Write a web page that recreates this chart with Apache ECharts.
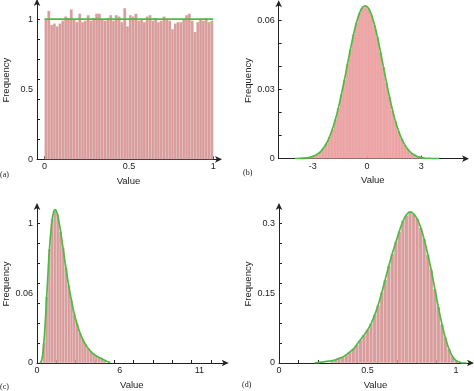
<!DOCTYPE html>
<html><head><meta charset="utf-8">
<script src="https://cdn.jsdelivr.net/npm/echarts@6/dist/echarts.min.js"></script>
<style>html,body{margin:0;padding:0;background:#fff}#c{width:474px;height:391px}</style>
</head><body><div id="c"></div>
<script>
// ---------- DATA ----------
// (a) uniform histogram, 60 bins on [0,1]
const aBinCenters = [];
const aValues = [1.00,1.06,0.96,0.97,0.95,0.97,0.99,1.02,1.01,1.07,1.00,0.98,1.04,0.98,0.99,1.03,0.99,1.01,1.04,1.04,
  1.00,0.99,1.01,1.03,0.99,1.03,1.02,0.98,1.08,0.95,1.03,1.02,1.04,0.99,1.00,0.98,1.02,1.03,0.99,1.01,
  0.98,0.99,1.02,1.00,0.99,0.93,0.97,0.98,0.98,1.00,1.03,1.04,0.99,0.91,0.98,1.00,0.99,1.01,0.98,0.99];
const aCurveX = [0, 1];
const aCurveY = [1, 1];

// (b) normal histogram
const bBinCenters = [-3.417,-3.25,-3.083,-2.917,-2.75,-2.583,-2.417,-2.25,-2.083,-1.917,-1.75,-1.583,-1.417,-1.25,-1.083,-0.917,-0.75,-0.583,-0.417,-0.25,-0.083,
  0.083,0.25,0.417,0.583,0.75,0.917,1.083,1.25,1.417,1.583,1.75,1.917,2.083,2.25,2.417,2.583,2.75,2.917,3.083,3.25];
const bValues = [0.0003,0.0005,0.0008,0.0013,0.0021,0.0030,0.0046,0.0066,0.0094,0.0127,0.0171,0.0220,0.0280,0.0342,0.0411,0.0475,0.0540,0.0590,0.0633,0.0657,0.0666,
  0.0653,0.0626,0.0580,0.0528,0.0462,0.0398,0.0329,0.0268,0.0209,0.0162,0.0119,0.0088,0.0060,0.0043,0.0027,0.0018,0.0011,0.0007,0.0004,0.0002];
const bCurveX = [-4,-3.75,-3.5,-3.25,-3.083,-2.917,-2.75,-2.583,-2.417,-2.25,-2.083,-1.917,-1.75,-1.583,-1.417,-1.25,-1.083,-0.917,-0.75,-0.583,-0.417,-0.25,-0.083,
  0.083,0.25,0.417,0.583,0.75,0.917,1.083,1.25,1.417,1.583,1.75,1.917,2.083,2.25,2.417,2.583,2.75,2.917,3.083,3.25,3.5,3.75,4];
const bCurveY = [0,0.0001,0.0003,0.0005,0.0008,0.0013,0.0020,0.0030,0.0045,0.0066,0.0093,0.0128,0.0170,0.0221,0.0279,0.0343,0.0410,0.0476,0.0538,0.0592,0.0632,0.0658,0.0665,
  0.0654,0.0625,0.0581,0.0527,0.0463,0.0397,0.0330,0.0267,0.0210,0.0161,0.0120,0.0087,0.0061,0.0042,0.0028,0.0018,0.0011,0.0007,0.0004,0.0002,0.0001,0,0];

// (c) right-skewed histogram
const cBinCenters = [0.5,0.7,0.9,1.1,1.3,1.5,1.7,1.9,2.1,2.3,2.5,2.7,2.9,3.1,3.3,3.5,3.7,3.9,4.1,4.3,4.5,4.7,4.9];
const cValues = [0.017,0.057,0.098,0.124,0.131,0.128,0.113,0.099,0.082,0.067,0.054,0.042,0.034,0.026,0.021,0.016,0.013,0.010,0.008,0.006,0.005,0.004,0.003];
const cCurveX = [0.2,0.3,0.4,0.5,0.6,0.7,0.8,0.9,1.0,1.1,1.2,1.3,1.4,1.5,1.6,1.7,1.8,1.9,2.0,2.2,2.4,2.6,2.8,3.0,3.2,3.4,3.6,3.8,4.0,4.2,4.4,4.6,4.8,5.0,5.3];
const cCurveY = [0,0.0012,0.0062,0.0177,0.0352,0.0563,0.0780,0.0974,0.1128,0.1235,0.1298,0.1320,0.1307,0.1268,0.1210,0.1139,0.1060,0.0977,0.0895,0.0737,0.0596,0.0475,0.0377,0.0297,0.0233,0.0183,0.0143,0.0112,0.0088,0.0069,0.0054,0.0043,0.0030,0.0018,0.0005];

// (d) left-skewed histogram
const dBinCenters = [0.30,0.32,0.34,0.36,0.38,0.40,0.42,0.44,0.46,0.48,0.50,0.52,0.54,0.56,0.58,0.60,0.62,0.64,0.66,0.68,0.70,0.72,0.74,0.76,0.78,0.80,0.82,0.84,0.86,0.88,0.90,0.92,0.94,0.96,0.98,1.00];
const dValues = [0.005,0.007,0.010,0.013,0.018,0.024,0.031,0.039,0.050,0.060,0.072,0.085,0.104,0.124,0.152,0.179,0.209,0.235,0.261,0.283,0.306,0.318,0.326,0.320,0.311,0.291,0.267,0.233,0.201,0.159,0.121,0.083,0.055,0.030,0.014,0.005];
const dCurveX = [0.20,0.22,0.24,0.26,0.28,0.30,0.32,0.34,0.36,0.38,0.40,0.42,0.44,0.46,0.48,0.50,0.52,0.54,0.56,0.58,0.60,0.62,0.64,0.66,0.68,0.70,0.72,0.74,0.76,0.78,0.80,0.82,0.84,0.86,0.88,0.90,0.92,0.94,0.96,0.98,1.00,1.02,1.04,1.06];
const dCurveY = [0,0.001,0.002,0.003,0.004,0.005,0.007,0.010,0.013,0.018,0.024,0.030,0.040,0.050,0.060,0.071,0.085,0.103,0.125,0.151,0.180,0.208,0.236,0.260,0.284,0.305,0.319,0.325,0.321,0.310,0.292,0.266,0.234,0.200,0.160,0.120,0.084,0.054,0.030,0.014,0.005,0.002,0,0];

// ticks and labels
const aXLabels = [0, 0.5, 1];
const aYLabels = [0, 0.5, 1];
const aYTicks = [0, 1/7, 2/7, 3/7, 4/7, 5/7, 6/7, 1];
const bXLabels = [-3, 0, 3];
const bYLabels = [0, 0.03, 0.06];
const bYTicks = [0, 0.01, 0.02, 0.03, 0.04, 0.05, 0.06];
const cXLabelPos = [0, 6, 11.76];
const cXLabelText = ['0', '6', '11'];
const cXTicks = [0, 1.4, 2.8, 4.2, 5.6, 7.0, 8.4, 9.8, 11.2, 12.6];
const cYLabelPos = [0, 0.06, 0.12];
const cYLabelText = ['0', '0.06', '1'];
const cYTicks = [0, 0.12/7, 0.24/7, 0.36/7, 0.48/7, 0.6/7, 0.72/7, 0.12];
const dXLabels = [0, 0.5, 1];
const dXTicks = [0, 1/9, 2/9, 3/9, 4/9, 5/9, 6/9, 7/9, 8/9, 1];
const dYLabels = [0, 0.15, 0.3];
const dYTicks = [0, 0.3/7, 0.6/7, 0.9/7, 1.2/7, 1.5/7, 1.8/7, 0.3];
for (let i = 0; i < aValues.length; i++) aBinCenters.push((i + 0.5) / aValues.length);

// ---------- CHART ----------
const FONT = 'Liberation Sans';
const TXT = '#222';
const GREEN = '#4cbc44';
function pairs(xs, ys) { return xs.map((x, i) => [x, ys[i]]); }
function lookup(pos, txt) {
  return function (v) {
    let best = 0;
    for (let i = 1; i < pos.length; i++) if (Math.abs(pos[i] - v) < Math.abs(pos[best] - v)) best = i;
    return txt[best];
  };
}
function fmtNum(v) { return String(Math.round(v * 1000) / 1000); }

function xAx(grid, min, max, labels, ticks, fmt) {
  return {
    type: 'value', gridIndex: grid, min: min, max: max,
    name: 'Value', nameLocation: 'middle', nameGap: 17,
    nameTextStyle: { fontFamily: FONT, fontSize: 9.5, color: TXT },
    axisLine: { show: true, onZero: false, symbol: ['none', 'arrow'], symbolSize: [5, 7], symbolOffset: [0, 2],
      lineStyle: { color: '#222', width: 1 } },
    axisTick: { show: true, inside: true, length: 3, customValues: ticks, lineStyle: { color: '#222' } },
    axisLabel: { customValues: labels, formatter: fmt || fmtNum, fontFamily: FONT, fontSize: 9, color: TXT, margin: 3 },
    splitLine: { show: false }
  };
}
function yAx(grid, max, labels, ticks, fmt, gap) {
  return {
    type: 'value', gridIndex: grid, min: 0, max: max,
    name: 'Frequency', nameLocation: 'middle', nameGap: gap,
    nameTextStyle: { fontFamily: FONT, fontSize: 9.5, color: TXT },
    axisLine: { show: true, onZero: false, symbol: ['none', 'arrow'], symbolSize: [5, 7], symbolOffset: [0, 2],
      lineStyle: { color: '#222', width: 1 } },
    axisTick: { show: true, inside: true, length: 3, customValues: ticks, lineStyle: { color: '#222' } },
    axisLabel: { customValues: labels, formatter: fmt || fmtNum, fontFamily: FONT, fontSize: 9, color: TXT, margin: 4 },
    splitLine: { show: false }
  };
}
function bars(idx, xs, ys, w, color, line) {
  return { type: 'bar', xAxisIndex: idx, yAxisIndex: idx, data: pairs(xs, ys), barWidth: w, silent: true,
    itemStyle: { color: color, borderColor: line, borderWidth: 0.4 } };
}
function curve(idx, xs, ys) {
  return { type: 'line', xAxisIndex: idx, yAxisIndex: idx, data: pairs(xs, ys), smooth: 0.4, symbol: 'none', silent: true,
    lineStyle: { color: GREEN, width: 1.7 }, z: 5 };
}

const chart = echarts.init(document.getElementById('c'), null, { renderer: 'canvas' });
chart.setOption({
  animation: false,
  backgroundColor: '#fff',
  grid: [
    { left: 35, top: 1, width: 185, height: 158.3 },
    { left: 278.7, top: 2.3, width: 188.3, height: 156.4 },
    { left: 34.3, top: 205, width: 192.4, height: 162.7 },
    { left: 279, top: 205, width: 193, height: 162.7 }
  ],
  xAxis: [
    xAx(0, -0.045, 1.04, aXLabels, aXLabels),
    xAx(1, -4.89, 5.54, bXLabels, bXLabels),
    xAx(2, 0, 13.74, cXLabelPos, cXTicks, lookup(cXLabelPos, cXLabelText)),
    xAx(3, 0, 1.09, dXLabels, dXTicks)
  ],
  yAxis: [
    yAx(0, 1.13, aYLabels, aYTicks, null, 26),
    yAx(1, 0.068, bYLabels, bYTicks, null, 25),
    yAx(2, 0.136, cYLabelPos, cYTicks, lookup(cYLabelPos, cYLabelText), 26),
    yAx(3, 0.34, dYLabels, dYTicks, null, 25)
  ],
  series: [
    bars(0, aBinCenters, aValues, 3.1, '#d99c9c', 'rgba(235,200,200,0.6)'),
    curve(0, aCurveX, aCurveY),
    bars(1, bBinCenters, bValues, 3.2, '#f3a3a3', 'rgba(190,160,160,0.6)'),
    curve(1, bCurveX, bCurveY),
    bars(2, cBinCenters, cValues, 3.0, '#d99c9c', 'rgba(235,205,205,0.7)'),
    curve(2, cCurveX, cCurveY),
    bars(3, dBinCenters, dValues, 3.7, '#d99c9c', 'rgba(235,205,205,0.7)'),
    curve(3, dCurveX, dCurveY)
  ],
  graphic: [
    { type: 'text', left: 0, top: 171, style: { text: '(a)', font: '8px "Liberation Serif"', fill: TXT } },
    { type: 'text', left: 243, top: 169, style: { text: '(b)', font: '8px "Liberation Serif"', fill: TXT } },
    { type: 'text', left: 0, top: 383, style: { text: '(c)', font: '8px "Liberation Serif"', fill: TXT } },
    { type: 'text', left: 242, top: 381, style: { text: '(d)', font: '8px "Liberation Serif"', fill: TXT } }
  ]
});
</script>
</body></html>
